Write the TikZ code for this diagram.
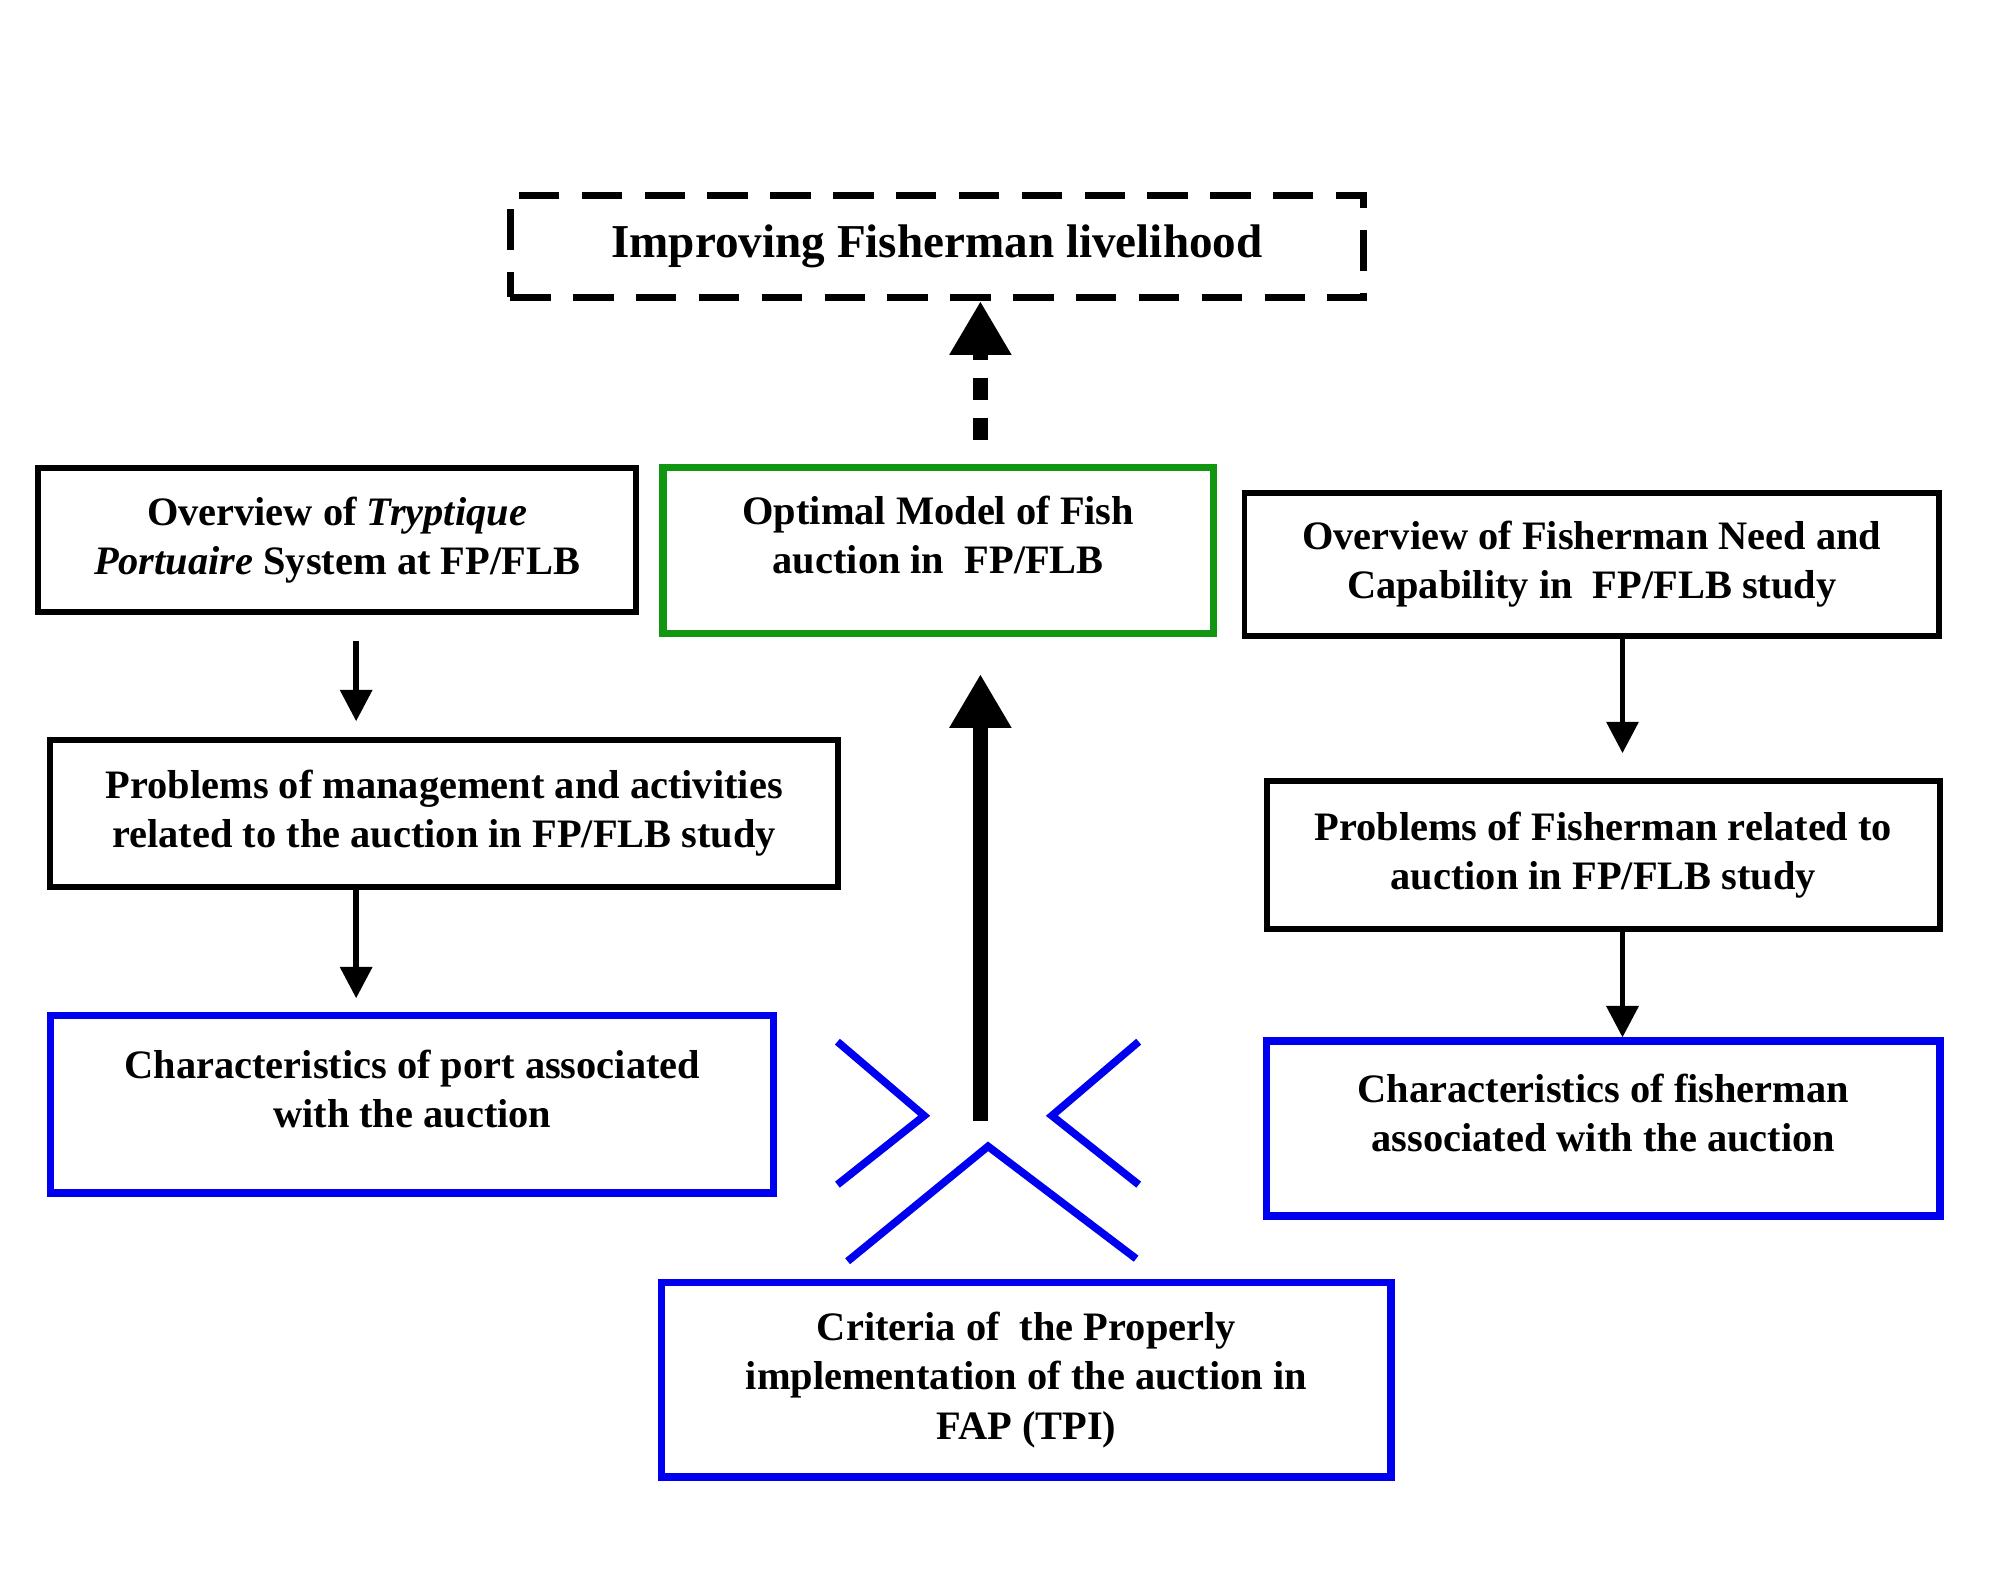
\documentclass[tikz,border=0pt]{standalone}
\usepackage{fontspec}
\setmainfont{Liberation Serif}
\usetikzlibrary{arrows.meta}
\definecolor{cgreen}{RGB}{16,150,16}
\definecolor{cblue}{RGB}{0,0,240}
\begin{document}
\begin{tikzpicture}[x=0.01cm,y=0.01cm,yscale=-1,
  box/.style={draw=black,line width=1.3pt,align=center,font=\fontsize{9pt}{11pt}\selectfont\bfseries,inner sep=0pt},
  txt/.style={align=center,font=\fontsize{9pt}{11pt}\selectfont\bfseries,inner sep=0pt},
  arr/.style={line width=1.2pt,-{Triangle[length=7pt,width=7pt]}},
  chev/.style={draw=cblue,line width=1.7pt}]
  \useasboundingbox (0,0) rectangle (1573,1239);

  \node[box,line width=1.6pt,dash pattern=on 9pt off 5pt,
    font=\fontsize{10.5pt}{13pt}\selectfont\bfseries,minimum width=6.68cm,minimum height=0.8cm] (goal) at (734,193) {Improving Fisherman livelihood};

  \node[box,minimum width=4.68cm,minimum height=1.13cm] (overL) at (264,423)
    {Overview of \textit{Tryptique}\\ \textit{Portuaire} System at FP/FLB};
  \node[box,draw=cgreen,line width=1.6pt,minimum width=4.31cm,minimum height=1.30cm] (model) at (735,431) {};
  \node[txt] (modelT) at ([shift={(0,-12)}]model.center) {Optimal Model of Fish\\ auction in\ \ FP/FLB};
  \node[box,minimum width=5.44cm,minimum height=1.12cm] (overR) at (1247,442)
    {Overview of Fisherman Need and\\ Capability in\ \ FP/FLB study};

  \node[box,minimum width=6.17cm,minimum height=1.15cm] (probL) at (348,637)
    {Problems of management and activities\\ related to the auction in FP/FLB study};
  \node[box,minimum width=5.27cm,minimum height=1.16cm] (probR) at (1256,670)
    {Problems of Fisherman related to\\ auction in FP/FLB study};

  \node[box,draw=cblue,line width=1.6pt,minimum width=5.66cm,minimum height=1.39cm] (charL) at (323,865) {};
  \node[txt] (charLT) at ([shift={(0,-12)}]charL.center) {Characteristics of port associated\\ with the auction};
  \node[box,draw=cblue,line width=1.6pt,minimum width=5.27cm,minimum height=1.37cm] (charR) at (1256,884) {};
  \node[txt] (charRT) at ([shift={(0,-12)}]charR.center) {Characteristics of fisherman\\ associated with the auction};
  \node[box,draw=cblue,line width=1.6pt,minimum width=5.71cm,minimum height=1.52cm] (crit) at (804,1081)
    {Criteria of\ \ the Properly\\ implementation of the auction in\\ FAP (TPI)};

  \coordinate (dotS) at (768,345);
  \coordinate (bigS) at (768,878);
  \draw[line width=3.2pt,dash pattern=on 5pt off 4pt,-{Triangle[length=12pt,width=13pt]}] (dotS) -- (goal.south -| dotS);
  \draw[line width=3.2pt,-{Triangle[length=12pt,width=13pt]}] (bigS) -- (768,528);

  \draw[arr] (overL.south -| 279,0) ++(0,20) -- (279,565);
  \draw[arr] (probL.south -| 279,0) -- (279,782);
  \draw[arr] (overR.south -| 1271,0) -- (1271,590);
  \draw[arr] (probR.south -| 1271,0) -- (charR.north -| 1271,0);

  \draw[chev] (656,816) -- (724,874) -- (656,928);
  \draw[chev] (892,816) -- (824,874) -- (892,928);
  \draw[chev] (664,988) -- (774,898) -- (890,986);
\end{tikzpicture}
\end{document}
